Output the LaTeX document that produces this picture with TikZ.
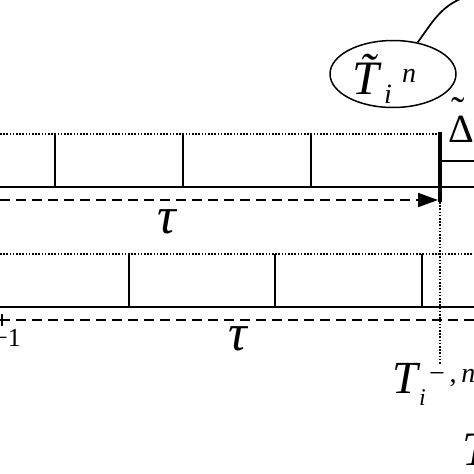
\documentclass[tikz,border=0pt]{standalone}
\usepackage{fontspec}
\setmainfont{Liberation Serif}
\usetikzlibrary{arrows.meta,shapes.geometric}
\begin{document}
\begin{tikzpicture}[x=1pt,y=-1pt,
  dotline/.style={line width=1.7pt, dash pattern=on 1.6pt off 1.6pt},
  dashline/.style={line width=1.8pt, dash pattern=on 10pt off 6pt},
  solidline/.style={line width=1.8pt},
  cell/.style={line width=1.5pt},
  bar/.style={line width=4pt},
  tip/.style={-{Triangle[length=20pt,width=14pt]}},
  big/.style={inner sep=0pt, font=\fontsize{46}{46}\selectfont\itshape},
  greek/.style={inner sep=0pt, font=\fontsize{52}{52}\selectfont\itshape},
  mid/.style={inner sep=0pt, font=\fontsize{40}{40}\selectfont},
  sub/.style={inner sep=0pt, font=\fontsize{28}{28}\selectfont\itshape},
  small/.style={inner sep=0pt, font=\fontsize{26}{26}\selectfont},
  smallit/.style={inner sep=0pt, font=\fontsize{24}{24}\selectfont\itshape},
  bubble/.style={draw, ellipse, line width=1.5pt, minimum width=126pt, minimum height=67pt, inner sep=0pt}]
\useasboundingbox (0,0) rectangle (474,474);
\clip (0,0) rectangle (474,474);
% ---------- row 1 ----------
\coordinate (a0) at (0,134);   \coordinate (a1) at (440,134);
\coordinate (b0) at (0,187);   \coordinate (b1) at (474,187);
\coordinate (c0) at (0,200);   \coordinate (c1) at (438,200);
\coordinate (bt) at (440,132); \coordinate (bb) at (440,202);
\coordinate (bm) at (440,161); \coordinate (bmr) at (474,161);
\coordinate (vl) at (440,365);
\draw[dotline] (a0) -- (a1);
\draw[solidline] (b0) -- (b1);
\foreach \x [count=\k] in {55,183,311}{
  \coordinate (u\k) at (\x,134); \coordinate (l\k) at (\x,187);
  \draw[cell] (u\k) -- (l\k);
}
\draw[dashline,tip] (c0) -- (c1);
\draw[bar] (bt) -- (bb);
\draw[solidline] (bm) -- (bmr);
\draw[dotline] (bb) -- (vl);
\node[greek] (tau1) at (167,222) {τ};
% ---------- row 2 ----------
\coordinate (d0) at (0,254);   \coordinate (d1) at (474,254);
\coordinate (e0) at (0,307);   \coordinate (e1) at (474,307);
\coordinate (f0) at (0,320);   \coordinate (f1) at (474,320);
\draw[dotline] (d0) -- (d1);
\draw[solidline] (e0) -- (e1);
\foreach \x [count=\k] in {129,275,422}{
  \coordinate (p\k) at (\x,254); \coordinate (q\k) at (\x,307);
  \draw[cell] (p\k) -- (q\k);
}
\draw[dashline] (f0) -- (f1);
\coordinate (t0) at (2,314); \coordinate (t1) at (2,326);
\draw[line width=1.5pt] (t0) -- (t1);
\node[greek] (tau2) at (238,339) {τ};
\node[small, anchor=base east] (m1) at (21,346) {−1};
% ---------- labels ----------
\node[bubble] (ell) at (393,74) {};
\node[big, font=\fontsize{48}{48}\selectfont\itshape, anchor=base west] (Tt) at (352,94) {T̃};
\node[sub, anchor=base west] (Ti) at (384,103) {i};
\node[sub, anchor=base west] (Tn) at (402,82) {n};
\coordinate (ce) at (480,-6);
\draw[line width=1.7pt] (ell.52) .. controls (434,20) and (445,-2) .. (ce);
\node[big, font=\fontsize{48}{48}\selectfont\itshape, anchor=base west] (Tr) at (472,50) {T̃};
\node[mid, anchor=base west] (Dl) at (448,142) {Δ};
\node[mid, anchor=base west] (Dt) at (451,124) {˜};
\node[big, anchor=base west] (Tb) at (392,393) {T};
\node[smallit, anchor=base west] (Tbi) at (419,405) {i};
\node[small, font=\fontsize{28}{28}\selectfont, anchor=base west] (Tbs) at (429,382) {−\,,\,\textit{n}};
\node[big, font=\fontsize{48}{48}\selectfont\itshape, anchor=base west] (Tc) at (462,465) {T};
\end{tikzpicture}
\end{document}
